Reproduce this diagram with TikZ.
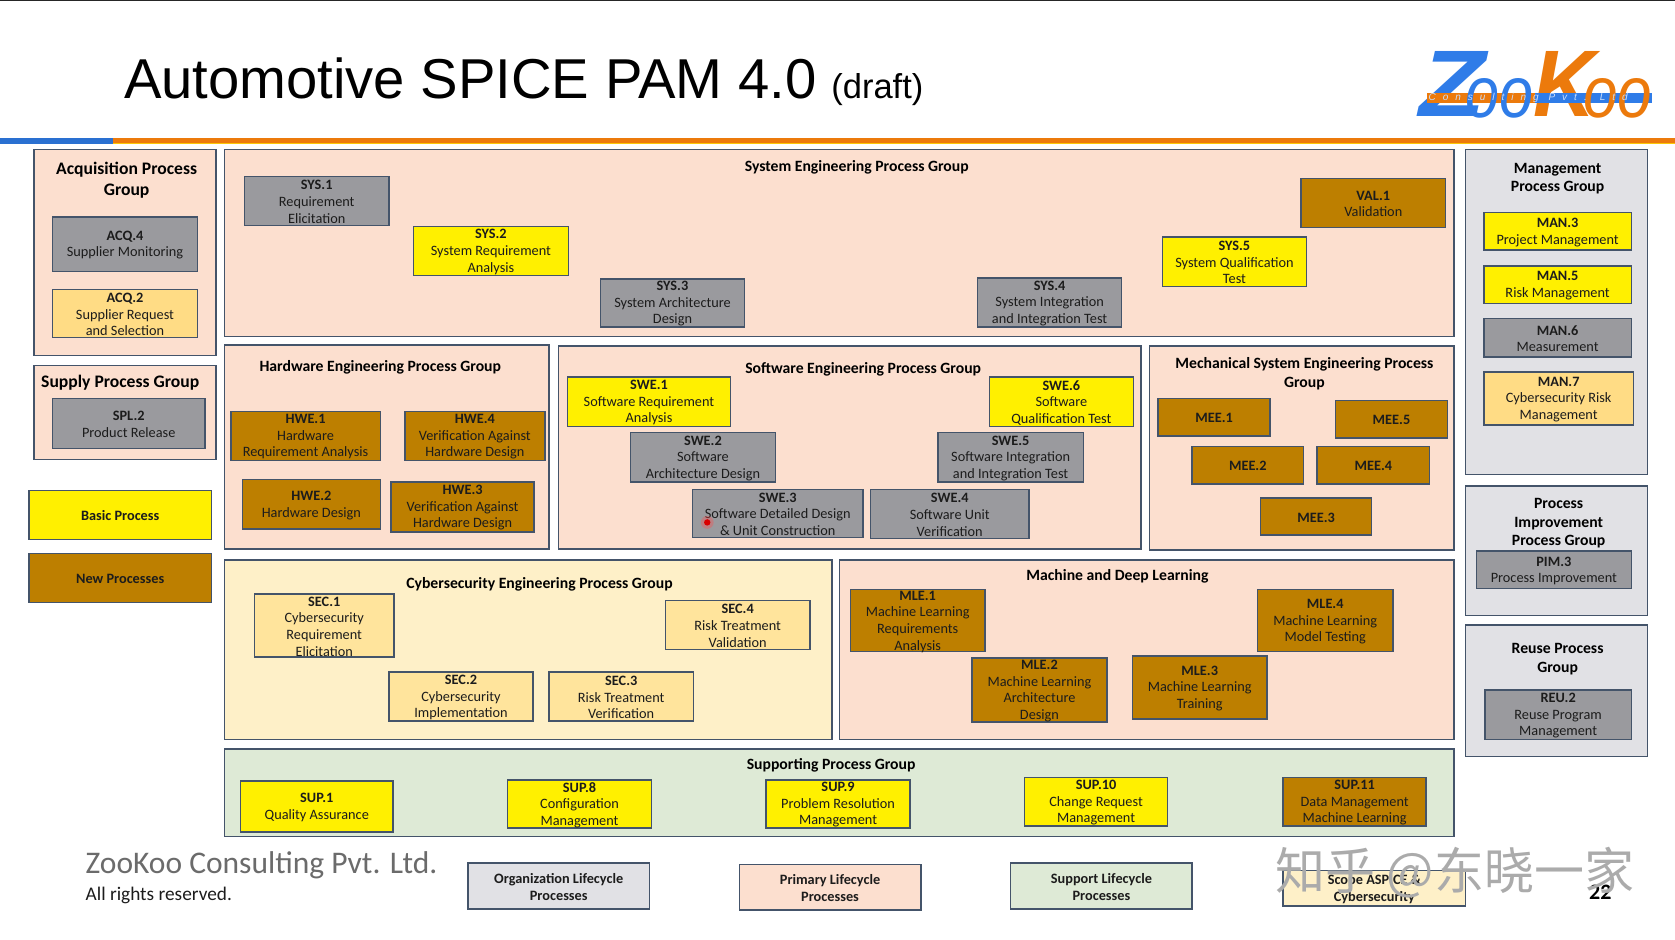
\documentclass[tikz,border=0pt]{standalone}
\usepackage{graphicx}
\usepackage{fontspec}
\setmainfont{Carlito}
\newfontfamily\lsans{Liberation Sans}
\newfontfamily\lspace[LetterSpace=70]{Liberation Sans}
\newfontfamily\cjk{Noto Sans CJK SC}
\definecolor{edge}{HTML}{44546A}
\definecolor{peach}{HTML}{FCDFCF}
\definecolor{greyp}{HTML}{9A9A9E}
\definecolor{yelp}{HTML}{FFF000}
\definecolor{brnp}{HTML}{BD7F00}
\definecolor{amberp}{HTML}{FFDC85}
\definecolor{cream}{HTML}{FEF0C8}
\definecolor{secp}{HTML}{FFE49C}
\definecolor{leaf}{HTML}{DEEAD6}
\definecolor{mist}{HTML}{E1E1E5}
\definecolor{ink}{HTML}{1C1C1C}
\definecolor{zblue}{HTML}{2F7CE8}
\definecolor{zorange}{HTML}{EC7A0C}
\tikzset{
  x=1.0683pt,y=-1.0683pt,
  frame/.style={draw=edge,line width=1.5pt,inner sep=0pt},
  grppeach/.style={frame,fill=peach},
  grpcream/.style={frame,fill=cream},
  grpleaf/.style={frame,fill=leaf},
  grpmist/.style={frame,fill=mist},
  procgrey/.style={frame,fill=greyp},
  procyel/.style={frame,fill=yelp},
  procbrn/.style={frame,fill=brnp},
  procamb/.style={frame,fill=amberp},
  procsec/.style={frame,fill=secp},
  lbl/.style={inner sep=0pt,align=center,text=ink,yshift=-1pt,font=\fontsize{14.3}{16.6}\selectfont},
  ttl/.style={inner sep=0pt,align=center,text=black,yshift=-1.6pt,font=\fontsize{15.7}{18.5}\selectfont\bfseries},
  ttlbig/.style={ttl,font=\fontsize{17.6}{21.3}\selectfont\bfseries},
}
\newcommand{\bx}[7]{%
  \node[#6,minimum width={(#4-#2)*1.0683pt},minimum height={(#5-#3)*1.0683pt}] (#1) at ({(#2+#4)/2},{(#3+#5)/2}) {};
  \node[lbl] (#1t) at (#1.center) {#7};}
\newcommand{\grp}[6]{%
  \node[#6,minimum width={(#4-#2)*1.0683pt},minimum height={(#5-#3)*1.0683pt}] (#1) at ({(#2+#4)/2},{(#3+#5)/2}) {};}
\newcommand{\ttlnode}[4]{\node[ttl] (#1) at (#2,#3) {#4};}
\newcommand{\pid}[1]{{\bfseries #1}}
\begin{document}
\begin{tikzpicture}
\useasboundingbox (0,0) rectangle (1567.9,879.9);
\fill[white] (0,0) rectangle (1567.9,879.9);
\fill[black!85] (0,0) rectangle (1567.9,1);
% rule
\fill[zblue!90!black] (0,129) rectangle (106,134.5);
\fill[zorange] (106,129) rectangle (1567.9,134);
\fill[yellow!60!orange] (106,134) rectangle (1567.9,135);
% title
\node[anchor=base west,inner sep=0pt,text=black,font=\lsans\fontsize{56.2}{56}\selectfont] (title) at (116,92) {Automotive SPICE PAM 4.0};
\node[anchor=base west,inner sep=0pt,text=black,font=\lsans\fontsize{34.5}{34}\selectfont] (draft) at (778,92) {(draft)};
% logo
\node[anchor=north west,inner sep=0pt] (logoz) at (1329,48) {\resizebox{66pt}{65pt}{\textcolor{zblue}{\lsans\bfseries\itshape Z}}};
\node[anchor=north west,inner sep=0pt] (logok) at (1435,48) {\resizebox{62pt}{65pt}{\textcolor{zorange}{\lsans\bfseries\itshape K}}};
\fill[zorange] (1336,87) rectangle (1437,96);
\fill[zblue] (1437,87) rectangle (1546,96);
\node[anchor=north west,inner sep=0pt] (logoo) at (1372,73) {\resizebox{68pt}{39pt}{\textcolor{zblue}{\lsans\itshape oo}}};
\node[anchor=north west,inner sep=0pt] (logop) at (1482,73) {\resizebox{69pt}{39pt}{\textcolor{zorange}{\lsans\itshape oo}}};
\node[anchor=west,inner sep=0pt,text=white!75!zblue,font=\lspace\itshape\fontsize{10}{10}\selectfont] (logot) at (1337,91.5) {Consulting Pvt. Ltd};
% groups
\grp{acq}{32}{140}{202}{333}{grppeach}
\grp{sply}{32}{342}{202}{430}{grppeach}
\grp{sys}{210}{140}{1361}{315}{grppeach}
\grp{hwe}{210}{323}{514}{514}{grppeach}
\grp{swe}{523}{324}{1068}{514}{grppeach}
\grp{mee}{1076}{324}{1361}{515}{grppeach}
\grp{cyb}{210}{524}{779}{692}{grpcream}
\grp{mle}{786}{524}{1361}{692}{grppeach}
\grp{sup}{210}{701}{1361}{783}{grpleaf}
\grp{man}{1372}{140}{1542}{444}{grpmist}
\grp{pim}{1372}{455}{1542}{576}{grpmist}
\grp{reu}{1372}{585}{1542}{708}{grpmist}
% group titles
\node[ttlbig] (acqt) at (118.5,167) {Acquisition Process\\Group};
\node[ttlbig] (splyt) at (112.5,357) {Supply Process Group};
\ttlnode{syst}{802}{155}{System Engineering Process Group}
\ttlnode{hwet}{356}{342}{Hardware Engineering Process Group}
\ttlnode{swet}{808}{344}{Software Engineering Process Group}
\ttlnode{meet}{1221}{348.5}{Mechanical System Engineering Process\\Group}
\ttlnode{cybt}{505}{545}{Cybersecurity Engineering Process Group}
\ttlnode{mlet}{1046}{538}{Machine and Deep Learning}
\ttlnode{supt}{778}{715}{Supporting Process Group}
\ttlnode{mant}{1458}{165.5}{Management\\Process Group}
\ttlnode{pimt}{1459}{488.5}{Process\\Improvement\\Process Group}
\ttlnode{reut}{1458}{615.5}{Reuse Process\\Group}
% acquisition, supply, legend
\bx{acqiv}{49}{203}{185}{254}{procgrey}{\pid{ACQ.4}\\Supplier Monitoring}
\bx{acqii}{49}{271}{185}{316}{procamb}{\pid{ACQ.2}\\Supplier Request\\and Selection}
\bx{splii}{49}{373}{192}{420}{procgrey}{\pid{SPL.2}\\Product Release}
\bx{basic}{27}{459}{198}{505}{procyel}{\pid{Basic Process}}
\bx{newp}{27}{518}{198}{564}{procbrn}{\pid{New Processes}}
% system
\bx{sysi}{229}{165}{364}{211}{procgrey}{\pid{SYS.1}\\Requirement\\Elicitation}
\bx{sysii}{387}{212}{532}{258}{procyel}{\pid{SYS.2}\\System Requirement\\Analysis}
\bx{sysiii}{562}{261}{697}{306}{procgrey}{\pid{SYS.3}\\System Architecture\\Design}
\bx{sysiv}{915}{260}{1050}{306}{procgrey}{\pid{SYS.4}\\System Integration\\and Integration Test}
\bx{sysv}{1088}{222}{1223}{268}{procyel}{\pid{SYS.5}\\System Qualification\\Test}
\bx{vali}{1218}{167}{1353}{213}{procbrn}{\pid{VAL.1}\\Validation}
% hardware
\bx{hwei}{216}{385}{356}{431}{procbrn}{\pid{HWE.1}\\Hardware\\Requirement Analysis}
\bx{hweiv}{379}{385}{510}{431}{procbrn}{\pid{HWE.4}\\Verification Against\\Hardware Design}
\bx{hweii}{227}{449}{356}{495}{procbrn}{\pid{HWE.2}\\Hardware Design}
\bx{hweiii}{366}{451}{500}{498}{procbrn}{\pid{HWE.3}\\Verification Against\\Hardware Design}
% software
\bx{swei}{531}{353}{684}{399}{procyel}{\pid{SWE.1}\\Software Requirement\\Analysis}
\bx{swevi}{926}{353}{1061}{399}{procyel}{\pid{SWE.6}\\Software\\Qualification Test}
\bx{sweii}{590}{405}{726}{451}{procgrey}{\pid{SWE.2}\\Software\\Architecture Design}
\bx{swev}{878}{405}{1014}{451}{procgrey}{\pid{SWE.5}\\Software Integration\\and Integration Test}
\bx{sweiii}{648}{458}{808}{503}{procgrey}{\pid{SWE.3}\\Software Detailed Design\\\& Unit Construction}
\bx{sweiv}{815}{458}{963}{504}{procgrey}{\pid{SWE.4}\\Software Unit\\Verification}
\fill[red!70,opacity=.35] (662,489) circle (6);
\fill[red!85!black] (662,489) circle (3);
% mechanical
\bx{meei}{1084}{373}{1189}{408}{procbrn}{\pid{MEE.1}}
\bx{meev}{1250}{375}{1355}{410}{procbrn}{\pid{MEE.5}}
\bx{meeii}{1116}{418}{1220}{453}{procbrn}{\pid{MEE.2}}
\bx{meeiv}{1233}{418}{1338}{453}{procbrn}{\pid{MEE.4}}
\bx{meeiii}{1180}{466}{1284}{501}{procbrn}{\pid{MEE.3}}
% cybersecurity
\bx{seci}{238}{556}{369}{615}{procsec}{\pid{SEC.1}\\Cybersecurity\\Requirement\\Elicitation}
\bx{seciv}{623}{562}{758}{608}{procsec}{\pid{SEC.4}\\Risk Treatment\\Validation}
\bx{secii}{364}{629}{499}{675}{procsec}{\pid{SEC.2}\\Cybersecurity\\Implementation}
\bx{seciii}{514}{629}{649}{675}{procsec}{\pid{SEC.3}\\Risk Treatment\\Verification}
% machine learning
\bx{mlei}{796}{552}{922}{610}{procbrn}{\pid{MLE.1}\\Machine Learning\\Requirements\\Analysis}
\bx{mleiv}{1177}{552}{1304}{610}{procbrn}{\pid{MLE.4}\\Machine Learning\\Model Testing}
\bx{mleii}{910}{616}{1036}{676}{procbrn}{\pid{MLE.2}\\Machine Learning\\Architecture\\Design}
\bx{mleiii}{1060}{614}{1186}{673}{procbrn}{\pid{MLE.3}\\Machine Learning\\Training}
% support
\bx{supi}{225}{731}{368}{779}{procyel}{\pid{SUP.1}\\Quality Assurance}
\bx{supviii}{475}{730}{610}{775}{procyel}{\pid{SUP.8}\\Configuration\\Management}
\bx{supix}{717}{730}{852}{775}{procyel}{\pid{SUP.9}\\Problem Resolution\\Management}
\bx{supx}{959}{728}{1093}{773}{procyel}{\pid{SUP.10}\\Change Request\\Management}
\bx{supxi}{1201}{728}{1335}{773}{procbrn}{\pid{SUP.11}\\Data Management\\Machine Learning}
% management
\bx{maniii}{1389}{199}{1527}{234}{procyel}{\pid{MAN.3}\\Project Management}
\bx{manv}{1389}{249}{1527}{284}{procyel}{\pid{MAN.5}\\Risk Management}
\bx{manvi}{1389}{298}{1527}{334}{procgrey}{\pid{MAN.6}\\Measurement}
\bx{manvii}{1389}{348}{1529}{398}{procamb}{\pid{MAN.7}\\Cybersecurity Risk\\Management}
\bx{pimiii}{1382}{516}{1527}{551}{procgrey}{\pid{PIM.3}\\Process Improvement}
\bx{reuii}{1390}{646}{1527}{692}{procgrey}{\pid{REU.2}\\Reuse Program\\Management}
% legend
\bx{lgorg}{438}{808}{608}{851}{grpmist}{\pid{Organization Lifecycle}\\\pid{Processes}}
\bx{lgpri}{692}{809}{862}{852}{grppeach}{\pid{Primary Lifecycle}\\\pid{Processes}}
\bx{lgsup}{946}{808}{1116}{851}{grpleaf}{\pid{Support Lifecycle}\\\pid{Processes}}
\bx{lgsco}{1201}{815}{1372}{848}{grpcream}{\pid{Scope ASPICE \&}\\\pid{Cybersecurity}}
% footer
\node[anchor=base west,inner sep=0pt,text=black!58,font=\fontsize{31.5}{32}\selectfont] (zk) at (80,818) {ZooKoo Consulting Pvt. Ltd.};
\node[anchor=base west,inner sep=0pt,text=ink,font=\fontsize{19.3}{20}\selectfont] (arr) at (80,843) {All rights reserved.};
\node[inner sep=0pt,text=black,font=\fontsize{22}{22}\selectfont\bfseries] (pgno) at (1498,835) {22};
\node[inner sep=0pt,text=black!33,font=\cjk\fontsize{50}{50}\selectfont] (wm) at (1362,817) {知乎 @东晓一家};
\end{tikzpicture}
\end{document}
